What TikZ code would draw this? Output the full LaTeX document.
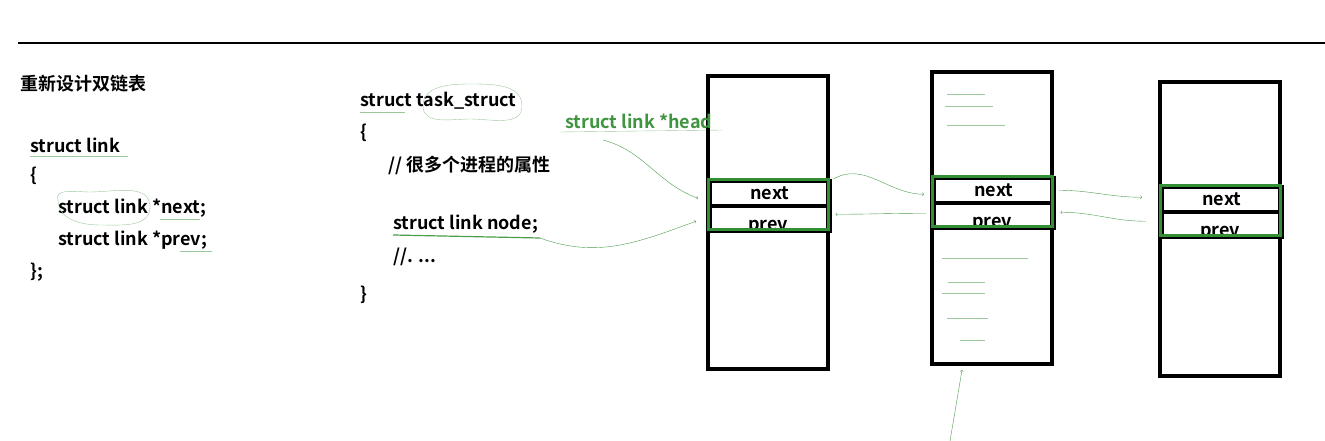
\documentclass[tikz,border=0pt]{standalone}
\usepackage{fontspec}
\setmainfont{Noto Sans CJK SC}[BoldFont={Noto Sans CJK SC Bold}]
\usetikzlibrary{arrows}

\tikzset{
    code/.style={anchor=west,inner sep=0pt,font=\fontsize{18}{21}\selectfont\bfseries},
    field/.style={draw=black,line width=3.5pt,minimum width=120pt,minimum height=25pt,inner sep=0pt,
                  font=\fontsize{18}{21}\selectfont\bfseries},
    pen/.style={draw=green!45!black!70,thin},
    scrib/.style={draw=green!30!gray!60,thin}
}

\begin{document}
\begin{tikzpicture}[x=1pt,y=-1pt]
    \useasboundingbox[fill=white] (0,0) rectangle (1325,441);
    \draw [line width=2pt] (18,43) -- (1325,43);

    % left column
    \node [code] (title) at (20,84)  {重新设计双链表};
    \node [code] (l1)    at (30,145) {struct link};
    \node [code] (l2)    at (30,176) {\{};
    \node [code] (l3)    at (58,208) {struct link *next;};
    \node [code] (l4)    at (58,240) {struct link *prev;};
    \node [code] (l5)    at (30,272) {\};};

    % task_struct
    \node [code] (t1) at (360,101) {struct task\_struct};
    \node [code] (t2) at (360,133) {\{};
    \node [code] (t3) at (388,165) {// 很多个进程的属性};
    \node [code] (t4) at (393,224) {struct link node;};
    \node [code] (t5) at (393,257) {//. ...};
    \node [code] (t6) at (360,295) {\}};

    % underlines and circles
    \draw [scrib] (30,156) -- (128,156);
    \draw [scrib] (360,112) -- (405,112);
    \draw [scrib] (423,106) to[out=90,in=180] (470,84) to[out=0,in=90] (522,106) to[out=-90,in=0] (470,119) to[out=180,in=-90] (423,106);
    \draw [scrib] (58,200) to[out=110,in=180] (90,192) to[out=0,in=90] (150,207) to[out=-90,in=0] (100,225) to[out=180,in=-90] (58,200);
    \draw [scrib] (160,219) -- (200,219);
    \draw [scrib] (180,251) -- (212,251);
    \draw [pen,line width=1.2pt] (393,235) -- (540,238);
    \draw [scrib] (560,132) -- (722,130);

    % the three nodes
    \foreach \i/\x/\yt/\yb/\yn in {a/708/76/369/179,b/932/72/364/176,c/1160/82/376/185}{%
        \draw [line width=3.5pt] (\x,\yt) rectangle (\x+120,\yb);
        \node [field,anchor=north west] (next\i) at (\x,\yn) {next};
        \node [field,anchor=north west] (prev\i) at (\x,\yn+25) {};
        \begin{scope}
            \clip (\x,\yn+25) rectangle (\x+120,\yn+48);
            \node [code,anchor=base] at (\x+60,\yn+51) {prev};
        \end{scope}
        \draw [draw=green!45!black!80,line width=3pt] (\x,\yn) rectangle (\x+120,\yn+50);
    }
    \node [code,text=green!45!black!75] (head) at (565,121) {struct link *head};

    % scribbles in the middle node
    \foreach \a/\b/\y in {947/985/94,945/993/106,947/1005/125,942/1028/258,948/985/282,942/985/293,947/988/318,960/985/340}{%
        \draw [scrib] (\a,\y) -- (\b,\y);
    }

    % pen arrows
    \coordinate (hs) at (603,140);
    \coordinate (ns) at (540,238);
    \coordinate (bs) at (950,441);
    \draw [pen,->] (hs) to[out=-15,in=160] ([xshift=-10pt,yshift=-5pt]nexta.west);
    \draw [pen,->] (ns) to[out=-20,in=200] ([xshift=-12pt,yshift=-3pt]preva.west);
    \draw [pen,->] ([xshift=2pt]nexta.north east) to[out=30,in=180] ([xshift=-8pt,yshift=-4pt]nextb.west);
    \draw [pen,->] ([xshift=-6pt,yshift=2pt]prevb.west) to[out=180,in=0] ([xshift=4pt,yshift=4pt]preva.east);
    \draw [pen,->] ([xshift=3pt]nextb.east) to[out=0,in=180] ([xshift=-18pt,yshift=2pt]nextc.west);
    \draw [pen,->] ([xshift=-14pt,yshift=3pt]prevc.west) to[out=180,in=0] ([xshift=5pt,yshift=3pt]prevb.east);
    \draw [pen,->] (bs) -- (962,370);
\end{tikzpicture}
\end{document}
